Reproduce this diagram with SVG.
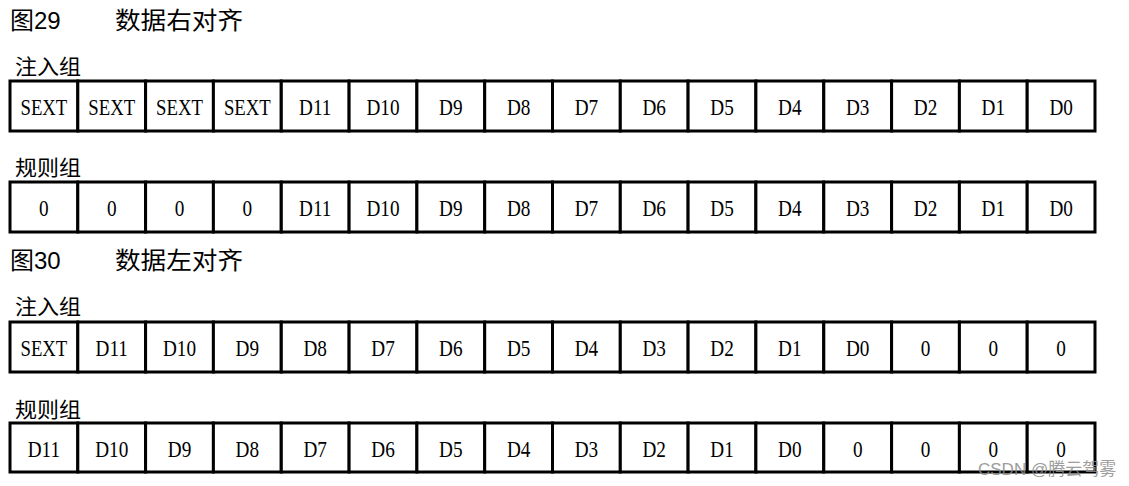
<svg xmlns="http://www.w3.org/2000/svg" width="1129" height="486" viewBox="0 0 1129 486">
<style>
.t{font-family:"Liberation Sans","Noto Sans CJK SC",sans-serif;font-size:24px;fill:#000}
.h{font-family:"Liberation Serif","Noto Sans CJK SC",serif;font-size:21px;fill:#000}
.c rect{fill:#fff;stroke:#000;stroke-width:3}
.c text{font-family:"Liberation Serif",serif;font-size:24px;fill:#000;text-anchor:middle}
.wm{font-family:"Liberation Sans","Noto Sans CJK SC",sans-serif;font-size:17px;fill:#8c8c8c;opacity:0.85}
</style>
<g id="title29"><text class="t" x="10" y="29">图29</text><text class="t" x="115" y="29" textLength="128" lengthAdjust="spacingAndGlyphs">数据右对齐</text></g>
<g id="label1"><text class="h" x="15" y="74" textLength="66" lengthAdjust="spacingAndGlyphs">注入组</text></g>
<g id="row1" class="c">
<g id="r1c0"><rect x="10" y="81" width="67.8" height="50"/><text transform="translate(43.9,115) scale(0.78,1)">SEXT</text></g>
<g id="r1c1"><rect x="77.8" y="81" width="67.8" height="50"/><text transform="translate(111.7,115) scale(0.78,1)">SEXT</text></g>
<g id="r1c2"><rect x="145.6" y="81" width="67.8" height="50"/><text transform="translate(179.5,115) scale(0.78,1)">SEXT</text></g>
<g id="r1c3"><rect x="213.4" y="81" width="67.8" height="50"/><text transform="translate(247.3,115) scale(0.78,1)">SEXT</text></g>
<g id="r1c4"><rect x="281.3" y="81" width="67.8" height="50"/><text transform="translate(315.2,115) scale(0.8,1)">D11</text></g>
<g id="r1c5"><rect x="349.1" y="81" width="67.8" height="50"/><text transform="translate(383,115) scale(0.8,1)">D10</text></g>
<g id="r1c6"><rect x="416.9" y="81" width="67.8" height="50"/><text transform="translate(450.8,115) scale(0.8,1)">D9</text></g>
<g id="r1c7"><rect x="484.7" y="81" width="67.8" height="50"/><text transform="translate(518.6,115) scale(0.8,1)">D8</text></g>
<g id="r1c8"><rect x="552.5" y="81" width="67.8" height="50"/><text transform="translate(586.4,115) scale(0.8,1)">D7</text></g>
<g id="r1c9"><rect x="620.3" y="81" width="67.8" height="50"/><text transform="translate(654.2,115) scale(0.8,1)">D6</text></g>
<g id="r1c10"><rect x="688.1" y="81" width="67.8" height="50"/><text transform="translate(722,115) scale(0.8,1)">D5</text></g>
<g id="r1c11"><rect x="755.9" y="81" width="67.8" height="50"/><text transform="translate(789.8,115) scale(0.8,1)">D4</text></g>
<g id="r1c12"><rect x="823.8" y="81" width="67.8" height="50"/><text transform="translate(857.7,115) scale(0.8,1)">D3</text></g>
<g id="r1c13"><rect x="891.6" y="81" width="67.8" height="50"/><text transform="translate(925.5,115) scale(0.8,1)">D2</text></g>
<g id="r1c14"><rect x="959.4" y="81" width="67.8" height="50"/><text transform="translate(993.3,115) scale(0.8,1)">D1</text></g>
<g id="r1c15"><rect x="1027.2" y="81" width="67.8" height="50"/><text transform="translate(1061.1,115) scale(0.8,1)">D0</text></g>
</g>
<g id="label2"><text class="h" x="15" y="175" textLength="66" lengthAdjust="spacingAndGlyphs">规则组</text></g>
<g id="row2" class="c">
<g id="r2c0"><rect x="10" y="182" width="67.8" height="50"/><text transform="translate(43.9,216) scale(0.8,1)">0</text></g>
<g id="r2c1"><rect x="77.8" y="182" width="67.8" height="50"/><text transform="translate(111.7,216) scale(0.8,1)">0</text></g>
<g id="r2c2"><rect x="145.6" y="182" width="67.8" height="50"/><text transform="translate(179.5,216) scale(0.8,1)">0</text></g>
<g id="r2c3"><rect x="213.4" y="182" width="67.8" height="50"/><text transform="translate(247.3,216) scale(0.8,1)">0</text></g>
<g id="r2c4"><rect x="281.3" y="182" width="67.8" height="50"/><text transform="translate(315.2,216) scale(0.8,1)">D11</text></g>
<g id="r2c5"><rect x="349.1" y="182" width="67.8" height="50"/><text transform="translate(383,216) scale(0.8,1)">D10</text></g>
<g id="r2c6"><rect x="416.9" y="182" width="67.8" height="50"/><text transform="translate(450.8,216) scale(0.8,1)">D9</text></g>
<g id="r2c7"><rect x="484.7" y="182" width="67.8" height="50"/><text transform="translate(518.6,216) scale(0.8,1)">D8</text></g>
<g id="r2c8"><rect x="552.5" y="182" width="67.8" height="50"/><text transform="translate(586.4,216) scale(0.8,1)">D7</text></g>
<g id="r2c9"><rect x="620.3" y="182" width="67.8" height="50"/><text transform="translate(654.2,216) scale(0.8,1)">D6</text></g>
<g id="r2c10"><rect x="688.1" y="182" width="67.8" height="50"/><text transform="translate(722,216) scale(0.8,1)">D5</text></g>
<g id="r2c11"><rect x="755.9" y="182" width="67.8" height="50"/><text transform="translate(789.8,216) scale(0.8,1)">D4</text></g>
<g id="r2c12"><rect x="823.8" y="182" width="67.8" height="50"/><text transform="translate(857.7,216) scale(0.8,1)">D3</text></g>
<g id="r2c13"><rect x="891.6" y="182" width="67.8" height="50"/><text transform="translate(925.5,216) scale(0.8,1)">D2</text></g>
<g id="r2c14"><rect x="959.4" y="182" width="67.8" height="50"/><text transform="translate(993.3,216) scale(0.8,1)">D1</text></g>
<g id="r2c15"><rect x="1027.2" y="182" width="67.8" height="50"/><text transform="translate(1061.1,216) scale(0.8,1)">D0</text></g>
</g>
<g id="title30"><text class="t" x="10" y="269">图30</text><text class="t" x="115" y="269" textLength="128" lengthAdjust="spacingAndGlyphs">数据左对齐</text></g>
<g id="label3"><text class="h" x="15" y="314" textLength="66" lengthAdjust="spacingAndGlyphs">注入组</text></g>
<g id="row3" class="c">
<g id="r3c0"><rect x="10" y="322" width="67.8" height="50"/><text transform="translate(43.9,356) scale(0.78,1)">SEXT</text></g>
<g id="r3c1"><rect x="77.8" y="322" width="67.8" height="50"/><text transform="translate(111.7,356) scale(0.8,1)">D11</text></g>
<g id="r3c2"><rect x="145.6" y="322" width="67.8" height="50"/><text transform="translate(179.5,356) scale(0.8,1)">D10</text></g>
<g id="r3c3"><rect x="213.4" y="322" width="67.8" height="50"/><text transform="translate(247.3,356) scale(0.8,1)">D9</text></g>
<g id="r3c4"><rect x="281.3" y="322" width="67.8" height="50"/><text transform="translate(315.2,356) scale(0.8,1)">D8</text></g>
<g id="r3c5"><rect x="349.1" y="322" width="67.8" height="50"/><text transform="translate(383,356) scale(0.8,1)">D7</text></g>
<g id="r3c6"><rect x="416.9" y="322" width="67.8" height="50"/><text transform="translate(450.8,356) scale(0.8,1)">D6</text></g>
<g id="r3c7"><rect x="484.7" y="322" width="67.8" height="50"/><text transform="translate(518.6,356) scale(0.8,1)">D5</text></g>
<g id="r3c8"><rect x="552.5" y="322" width="67.8" height="50"/><text transform="translate(586.4,356) scale(0.8,1)">D4</text></g>
<g id="r3c9"><rect x="620.3" y="322" width="67.8" height="50"/><text transform="translate(654.2,356) scale(0.8,1)">D3</text></g>
<g id="r3c10"><rect x="688.1" y="322" width="67.8" height="50"/><text transform="translate(722,356) scale(0.8,1)">D2</text></g>
<g id="r3c11"><rect x="755.9" y="322" width="67.8" height="50"/><text transform="translate(789.8,356) scale(0.8,1)">D1</text></g>
<g id="r3c12"><rect x="823.8" y="322" width="67.8" height="50"/><text transform="translate(857.7,356) scale(0.8,1)">D0</text></g>
<g id="r3c13"><rect x="891.6" y="322" width="67.8" height="50"/><text transform="translate(925.5,356) scale(0.8,1)">0</text></g>
<g id="r3c14"><rect x="959.4" y="322" width="67.8" height="50"/><text transform="translate(993.3,356) scale(0.8,1)">0</text></g>
<g id="r3c15"><rect x="1027.2" y="322" width="67.8" height="50"/><text transform="translate(1061.1,356) scale(0.8,1)">0</text></g>
</g>
<g id="label4"><text class="h" x="15" y="417" textLength="66" lengthAdjust="spacingAndGlyphs">规则组</text></g>
<g id="row4" class="c">
<g id="r4c0"><rect x="10" y="423" width="67.8" height="49"/><text transform="translate(43.9,457) scale(0.8,1)">D11</text></g>
<g id="r4c1"><rect x="77.8" y="423" width="67.8" height="49"/><text transform="translate(111.7,457) scale(0.8,1)">D10</text></g>
<g id="r4c2"><rect x="145.6" y="423" width="67.8" height="49"/><text transform="translate(179.5,457) scale(0.8,1)">D9</text></g>
<g id="r4c3"><rect x="213.4" y="423" width="67.8" height="49"/><text transform="translate(247.3,457) scale(0.8,1)">D8</text></g>
<g id="r4c4"><rect x="281.3" y="423" width="67.8" height="49"/><text transform="translate(315.2,457) scale(0.8,1)">D7</text></g>
<g id="r4c5"><rect x="349.1" y="423" width="67.8" height="49"/><text transform="translate(383,457) scale(0.8,1)">D6</text></g>
<g id="r4c6"><rect x="416.9" y="423" width="67.8" height="49"/><text transform="translate(450.8,457) scale(0.8,1)">D5</text></g>
<g id="r4c7"><rect x="484.7" y="423" width="67.8" height="49"/><text transform="translate(518.6,457) scale(0.8,1)">D4</text></g>
<g id="r4c8"><rect x="552.5" y="423" width="67.8" height="49"/><text transform="translate(586.4,457) scale(0.8,1)">D3</text></g>
<g id="r4c9"><rect x="620.3" y="423" width="67.8" height="49"/><text transform="translate(654.2,457) scale(0.8,1)">D2</text></g>
<g id="r4c10"><rect x="688.1" y="423" width="67.8" height="49"/><text transform="translate(722,457) scale(0.8,1)">D1</text></g>
<g id="r4c11"><rect x="755.9" y="423" width="67.8" height="49"/><text transform="translate(789.8,457) scale(0.8,1)">D0</text></g>
<g id="r4c12"><rect x="823.8" y="423" width="67.8" height="49"/><text transform="translate(857.7,457) scale(0.8,1)">0</text></g>
<g id="r4c13"><rect x="891.6" y="423" width="67.8" height="49"/><text transform="translate(925.5,457) scale(0.8,1)">0</text></g>
<g id="r4c14"><rect x="959.4" y="423" width="67.8" height="49"/><text transform="translate(993.3,457) scale(0.8,1)">0</text></g>
<g id="r4c15"><rect x="1027.2" y="423" width="67.8" height="49"/><text transform="translate(1061.1,457) scale(0.8,1)">0</text></g>
</g>
<g id="connectors"></g>
<g id="watermark"><text class="wm" x="978" y="475">CSDN @腾云驾雾</text></g>
</svg>
